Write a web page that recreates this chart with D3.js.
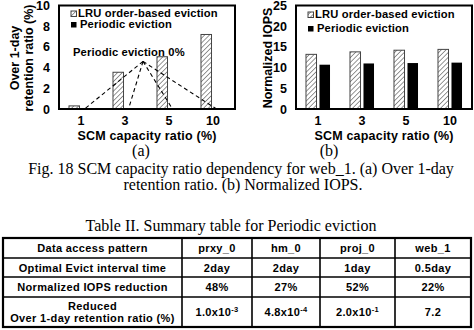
<!DOCTYPE html>
<html>
<head>
<meta charset="utf-8">
<script src="https://cdn.jsdelivr.net/npm/d3@7"></script>
<style>
  body { margin: 0; background: #fff; }
  svg { display: block; }
</style>
</head>
<body>
<div id="fig"></div>
<script>
// Chart data
var categories = ["1", "3", "5", "10"];
var seriesNames = ["LRU order-based eviction", "Periodic eviction"];
var retentionLRU = [0.3, 3.55, 5.05, 7.2];
var retentionPeriodic = [0, 0, 0, 0];
var iopsLRU = [13.2, 13.8, 14.2, 14.4];
var iopsPeriodic = [10.7, 11.0, 11.1, 11.2];
var retentionTicks = [0, 2, 4, 6, 8, 10];
var iopsTicks = [0, 5, 10, 15, 20, 25];
var periodicNoteValue = 4.6;

// Table data
var tableHeader = ["Data access pattern", "prxy_0", "hm_0", "proj_0", "web_1"];
var tableInterval = ["Optimal Evict interval time", "2day", "2day", "1day", "0.5day"];
var tableIops = ["Normalized IOPS reduction", "48%", "27%", "52%", "22%"];
var tableRetention = ["Reduced|Over 1-day retention ratio (%)", "1.0x10^-3", "4.8x10^-4", "2.0x10^-1", "7.2"];

var W = 474, H = 330;
var sans = "'Liberation Sans', Arial, sans-serif";
var serif = "'Liberation Serif', 'Times New Roman', serif";

var svg = d3.select("#fig").append("svg")
    .attr("width", W)
    .attr("height", H);

// hatch pattern for LRU bars
var defs = svg.append("defs");
var pat = defs.append("pattern")
    .attr("id", "hatch")
    .attr("patternUnits", "userSpaceOnUse")
    .attr("width", 3.4)
    .attr("height", 3.4)
    .attr("patternTransform", "rotate(45)");
pat.append("rect").attr("width", 3.4).attr("height", 3.4).attr("fill", "#fff");
pat.append("line")
    .attr("x1", 0).attr("y1", 0).attr("x2", 0).attr("y2", 3.4)
    .attr("stroke", "#5e5e5e")
    .attr("stroke-width", 1.3);

function DrawPanel(opts) {
    var g = svg.append("g");
    var x0 = d3.scaleBand().domain(categories).range([opts.left, opts.right]);
    var x1 = d3.scaleBand().domain(seriesNames).range([0, x0.bandwidth()])
        .paddingInner(0.22).paddingOuter(0.74);
    var y = d3.scaleLinear().domain(opts.domain).range([109, 5.5]);

    var rows = categories.map(function(c, i) {
        return {cat: c, vals: [opts.lru[i], opts.per[i]]};
    });

    // bars
    var grp = g.selectAll("g.grp")
        .data(rows)
        .enter().append("g")
        .attr("transform", function(d) { return "translate(" + x0(d.cat) + ",0)"; });
    grp.selectAll("rect")
        .data(function(d) { return d.vals.map(function(v, k) { return {s: seriesNames[k], v: v}; }); })
        .enter().append("rect")
        .filter(function(d) { return d.v > 0; })
        .attr("x", function(d) { return x1(d.s); })
        .attr("y", function(d) { return y(d.v); })
        .attr("width", x1.bandwidth())
        .attr("height", function(d) { return y(0) - y(d.v); })
        .attr("fill", function(d) { return d.s == seriesNames[0] ? "url(#hatch)" : "#000"; })
        .attr("stroke", function(d) { return d.s == seriesNames[0] ? "#444" : "none"; })
        .attr("stroke-width", 1);

    // y axis
    var ya = g.append("g")
        .attr("transform", "translate(" + opts.left + ",0)")
        .call(d3.axisLeft(y).tickValues(opts.ticks).tickSize(0).tickPadding(9));
    ya.select(".domain").remove();
    ya.selectAll("text")
        .style("font-family", sans)
        .style("font-weight", "bold")
        .style("font-size", "12.5px")
        .attr("fill", "#000");

    // x axis
    var xa = g.append("g")
        .attr("transform", "translate(0,109)")
        .call(d3.axisBottom(x0).tickSize(0).tickPadding(7.5));
    xa.select(".domain").remove();
    xa.selectAll("text")
        .style("font-family", sans)
        .style("font-weight", "bold")
        .style("font-size", "12.5px")
        .attr("fill", "#000");

    // frame
    g.append("rect")
        .attr("x", opts.left)
        .attr("y", y(opts.domain[1]))
        .attr("width", opts.right - opts.left)
        .attr("height", y(0) - y(opts.domain[1]))
        .attr("fill", "none")
        .attr("stroke", "#000")
        .attr("stroke-width", 2);

    // x title
    g.append("text")
        .attr("x", (opts.left + opts.right) / 2)
        .attr("y", 140)
        .attr("text-anchor", "middle")
        .style("font-family", sans)
        .style("font-weight", "bold")
        .style("font-size", "12.5px")
        .style("letter-spacing", "0.2px")
        .text("SCM capacity ratio (%)");

    // y title
    opts.ylab.forEach(function(t, i) {
        g.append("text")
            .attr("transform", "translate(" + opts.ylabX[i] + ",58) rotate(-90)")
            .attr("text-anchor", "middle")
            .style("font-family", sans)
            .style("font-weight", "bold")
            .style("font-size", "12.5px")
            .text(t);
    });

    // legend
    var lx = opts.left + 12;
    opts.legendY.forEach(function(ly, k) {
        g.append("rect")
            .attr("x", lx)
            .attr("y", ly - 6)
            .attr("width", 5.5)
            .attr("height", 5.5)
            .attr("fill", k == 0 ? "url(#hatch)" : "#000")
            .attr("stroke", k == 0 ? "#444" : "none");
        g.append("text")
            .attr("x", lx + (k == 0 ? 7 : 9))
            .attr("y", ly)
            .style("font-family", sans)
            .style("font-weight", "bold")
            .style("font-size", "11.2px")
            .style("letter-spacing", "0.15px")
            .text(seriesNames[k]);
    });

    return {x0: x0, x1: x1, y: y, g: g};
}

// (a) Over 1-day retention ratio
var pa = DrawPanel({
    left: 59, right: 235, domain: [0, 10], ticks: retentionTicks,
    lru: retentionLRU, per: retentionPeriodic,
    ylab: ["Over 1-day", "retention ratio (%)"], ylabX: [19, 33],
    legendY: [17, 28]
});

// note for zero-height periodic bars
pa.g.append("text")
    .attr("x", 73)
    .attr("y", 56)
    .style("font-family", sans)
    .style("font-weight", "bold")
    .style("font-size", "11.2px")
    .style("letter-spacing", "0.15px")
    .text("Periodic eviction 0%");
var apexX = pa.x0("5") - 4;
var apexY = pa.y(periodicNoteValue);
pa.g.selectAll("line.note")
    .data(categories)
    .enter().append("line")
    .attr("x1", apexX)
    .attr("y1", apexY)
    .attr("x2", function(c) { return pa.x0(c) + pa.x1(seriesNames[1]) + 2; })
    .attr("y2", pa.y(0))
    .attr("stroke", "#000")
    .attr("stroke-width", 1.1)
    .attr("stroke-dasharray", "4,3");

// (b) Normalized IOPS
DrawPanel({
    left: 296, right: 472, domain: [0, 25], ticks: iopsTicks,
    lru: iopsLRU, per: iopsPeriodic,
    ylab: ["Normalized IOPS"], ylabX: [272],
    legendY: [18, 32]
});

// sub-labels and caption
function serifText(x, y, t) {
    svg.append("text")
        .attr("x", x)
        .attr("y", y)
        .attr("text-anchor", "middle")
        .style("font-family", serif)
        .style("font-size", "16px")
        .text(t);
}
serifText(141, 156, "(a)");
serifText(329, 156, "(b)");
serifText(241, 174, "Fig. 18 SCM capacity ratio dependency for web_1. (a) Over 1-day");
serifText(243, 190, "retention ratio. (b) Normalized IOPS.");
serifText(231, 231, "Table II. Summary table for Periodic eviction");

// table
var colX = [3, 182, 252, 320, 395, 471];
var rowY = [238, 258, 277, 297, 327];
var tableRows = [tableHeader, tableInterval, tableIops, tableRetention];
var tg = svg.append("g");

tableRows.forEach(function(row, r) {
    row.forEach(function(cell, c) {
        var cx = (colX[c] + colX[c + 1]) / 2;
        var cy = (rowY[r] + rowY[r + 1]) / 2;
        var lines = cell.split("|");
        lines.forEach(function(line, li) {
            var t = tg.append("text")
                .attr("x", cx)
                .attr("y", cy + 4 + (li - (lines.length - 1) / 2) * 12.5)
                .attr("text-anchor", "middle")
                .style("font-family", sans)
                .style("font-weight", "bold")
                .style("font-size", "11px")
                .style("letter-spacing", "0.35px");
            var parts = line.split("^");
            t.append("tspan").text(parts[0]);
            if (parts.length > 1) {
                t.append("tspan")
                    .attr("dy", -4)
                    .style("font-size", "7.5px")
                    .text(parts[1]);
            }
        });
    });
});

// grid lines
tg.selectAll("line.h")
    .data(rowY.slice(1, -1))
    .enter().append("line")
    .attr("x1", colX[0]).attr("x2", colX[colX.length - 1])
    .attr("y1", function(d) { return d; }).attr("y2", function(d) { return d; })
    .attr("stroke", "#000").attr("stroke-width", 1.6);
tg.selectAll("line.v")
    .data(colX.slice(1, -1))
    .enter().append("line")
    .attr("x1", function(d) { return d; }).attr("x2", function(d) { return d; })
    .attr("y1", rowY[0]).attr("y2", rowY[rowY.length - 1])
    .attr("stroke", "#000").attr("stroke-width", 1.6);
tg.append("rect")
    .attr("x", colX[0]).attr("y", rowY[0])
    .attr("width", colX[colX.length - 1] - colX[0])
    .attr("height", rowY[rowY.length - 1] - rowY[0])
    .attr("fill", "none")
    .attr("stroke", "#000")
    .attr("stroke-width", 2.2);
</script>
</body>
</html>
